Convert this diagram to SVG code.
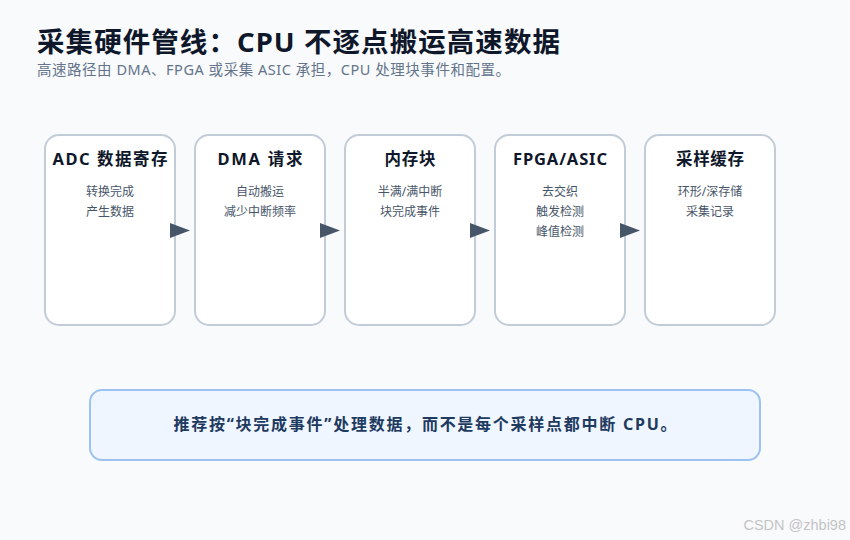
<svg xmlns="http://www.w3.org/2000/svg" width="850" height="540" viewBox="0 0 850 540">
<style>
.t{font-family:"Noto Sans","Noto Sans CJK SC",sans-serif}
.node rect{fill:#ffffff;stroke:#c2ccd9;stroke-width:2}
.nt{font-size:16.5px;font-weight:700;fill:#0f172a;text-anchor:middle}
.nl{font-size:12px;fill:#475569;text-anchor:middle}
.arr{fill:#475569}
</style>
<rect width="850" height="540" fill="#f8fafc"/>
<text class="t" x="37" y="52" font-size="27.5" font-weight="700" fill="#0f172a" textLength="523" lengthAdjust="spacing">采集硬件管线：CPU 不逐点搬运高速数据</text>
<text class="t" x="37" y="75" font-size="14.5" fill="#64748b" textLength="473" lengthAdjust="spacing">高速路径由 DMA、FPGA 或采集 ASIC 承担，CPU 处理块事件和配置。</text>

<g id="node1" class="node"><rect x="45" y="135" width="130" height="190" rx="14"/>
<text class="t nt" x="110" y="165" textLength="115" lengthAdjust="spacing">ADC 数据寄存</text>
<text class="t nl" x="110" y="196">转换完成</text><text class="t nl" x="110" y="216">产生数据</text></g>
<g id="node2" class="node"><rect x="195" y="135" width="130" height="190" rx="14"/>
<text class="t nt" x="260" y="165" textLength="85" lengthAdjust="spacing">DMA 请求</text>
<text class="t nl" x="260" y="196">自动搬运</text><text class="t nl" x="260" y="216">减少中断频率</text></g>
<g id="node3" class="node"><rect x="345" y="135" width="130" height="190" rx="14"/>
<text class="t nt" x="410" y="165" textLength="51" lengthAdjust="spacing">内存块</text>
<text class="t nl" x="410" y="196">半满/满中断</text><text class="t nl" x="410" y="216">块完成事件</text></g>
<g id="node4" class="node"><rect x="495" y="135" width="130" height="190" rx="14"/>
<text class="t nt" x="560" y="165" textLength="94" lengthAdjust="spacing">FPGA/ASIC</text>
<text class="t nl" x="560" y="196">去交织</text><text class="t nl" x="560" y="216">触发检测</text><text class="t nl" x="560" y="236">峰值检测</text></g>
<g id="node5" class="node"><rect x="645" y="135" width="130" height="190" rx="14"/>
<text class="t nt" x="710" y="165" textLength="68" lengthAdjust="spacing">采样缓存</text>
<text class="t nl" x="710" y="196">环形/深存储</text><text class="t nl" x="710" y="216">采集记录</text></g>

<g id="connectors">
<polygon class="arr" points="170,223 190,230.5 170,238"/>
<polygon class="arr" points="320,223 340,230.5 320,238"/>
<polygon class="arr" points="470,223 490,230.5 470,238"/>
<polygon class="arr" points="620,223 640,230.5 620,238"/>
</g>

<g id="note"><rect x="90" y="390" width="670" height="70" rx="12" fill="#eff6ff" stroke="#9cc3f0" stroke-width="2"/>
<text class="t" x="425" y="430" font-size="16" font-weight="700" fill="#1e3a5f" text-anchor="middle" textLength="503" lengthAdjust="spacing">推荐按“块完成事件”处理数据，而不是每个采样点都中断 CPU。</text></g>

<text x="846" y="530" font-family="Liberation Sans,sans-serif" font-size="14.5" fill="#c4c4c4" text-anchor="end">CSDN @zhbi98</text>
</svg>
